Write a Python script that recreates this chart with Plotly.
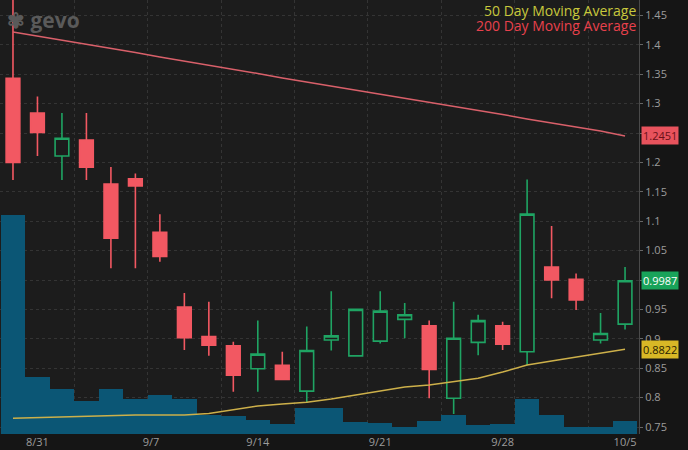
import plotly.graph_objects as go

# ---- data ----
dates = ["8/28", "8/31", "9/1", "9/2", "9/3", "9/4", "9/8", "9/9", "9/10", "9/11",
         "9/14", "9/15", "9/16", "9/17", "9/18", "9/21", "9/22", "9/23", "9/24", "9/25",
         "9/28", "9/29", "9/30", "10/1", "10/2", "10/5"]
opens = [1.343, 1.284, 1.211, 1.238, 1.163, 1.172, 1.081, 0.954, 0.904, 0.888,
         0.849, 0.855, 0.811, 0.898, 0.871, 0.896, 0.933, 0.922, 0.799, 0.894,
         0.922, 0.878, 1.022, 1.001, 0.898, 0.925]
highs = [1.49, 1.312, 1.284, 1.284, 1.192, 1.181, 1.112, 0.978, 0.963, 0.895,
         0.931, 0.878, 0.921, 0.981, 0.950, 0.981, 0.961, 0.931, 0.963, 0.941,
         0.929, 1.171, 1.092, 1.011, 0.944, 1.022]
lows = [1.170, 1.211, 1.170, 1.170, 1.020, 1.020, 1.031, 0.881, 0.871, 0.810,
        0.810, 0.831, 0.791, 0.880, 0.871, 0.892, 0.901, 0.799, 0.772, 0.872,
        0.881, 0.855, 0.969, 0.949, 0.892, 0.916]
closes = [1.200, 1.251, 1.241, 1.192, 1.071, 1.160, 1.040, 0.902, 0.889, 0.838,
          0.874, 0.831, 0.880, 0.905, 0.950, 0.947, 0.941, 0.848, 0.901, 0.931,
          0.891, 1.112, 1.000, 0.966, 0.909, 0.9987]
volumes = [43.8, 11.4, 9.0, 6.6, 9.0, 7.0, 7.8, 7.0, 3.8, 3.6,
           2.8, 2.0, 5.2, 5.2, 2.4, 2.2, 1.4, 2.6, 3.8, 1.8,
           2.0, 7.0, 3.8, 1.4, 1.4, 2.6]
ma50 = [0.765, 0.766, 0.767, 0.7687, 0.7696, 0.7704, 0.7704, 0.7704, 0.773, 0.7798,
        0.7857, 0.789, 0.792, 0.7976, 0.8044, 0.8104, 0.818, 0.8214, 0.8265, 0.8328,
        0.8435, 0.8554, 0.8622, 0.869, 0.8759, 0.8822]
ma200 = [1.4218, 1.415, 1.408, 1.4014, 1.3937, 1.387, 1.3793, 1.3724, 1.3656, 1.358,
         1.3512, 1.3435, 1.3367, 1.3299, 1.3231, 1.3163, 1.3087, 1.3019, 1.2951, 1.2883,
         1.2815, 1.2738, 1.267, 1.2602, 1.2534, 1.2451]

x_tick_pos = [1, 5.64, 10, 15, 20, 25]
x_tick_text = ["8/31", "9/7", "9/14", "9/21", "9/28", "10/5"]
x_grid_pos = [2.5, 5.5, 8.5, 11.5, 14.5, 17.5, 20.5, 23.5]
y_tick_vals = [0.75, 0.8, 0.85, 0.9, 0.95, 1.0, 1.05, 1.1, 1.15, 1.2, 1.25, 1.3, 1.35, 1.4, 1.45]
y_tick_show = ["0.75", "0.8", "0.85", "0.9", "0.95", "", "1.05", "1.1", "1.15", "1.2",
               "", "1.3", "1.35", "1.4", "1.45"]

idx = list(range(len(dates)))

PLOT_BG = "#1c1c1c"
PAPER_BG = "#151515"
RED = "#f25862"
GREEN = "#1fa463"
VOL = "#0b5675"
GRID = "#343434"
TXT = "#9c9c9c"

fig = go.Figure()

fig.add_trace(go.Bar(
    x=idx, y=volumes, marker=dict(color=VOL, line=dict(width=0)),
    width=1.0, xaxis="x", yaxis="y", hoverinfo="skip", showlegend=False))

fig.add_trace(go.Scatter(
    x=idx, y=ma200, mode="lines", line=dict(color="#d9606a", width=1.5),
    xaxis="x", yaxis="y2", hoverinfo="skip", showlegend=False))
fig.add_trace(go.Scatter(
    x=idx, y=ma50, mode="lines", line=dict(color="#cdb04a", width=1.5),
    xaxis="x", yaxis="y2", hoverinfo="skip", showlegend=False))

fig.add_trace(go.Candlestick(
    x=idx, open=opens, high=highs, low=lows, close=closes,
    increasing=dict(line=dict(color=GREEN, width=1.6), fillcolor=PLOT_BG),
    decreasing=dict(line=dict(color=RED, width=1.6), fillcolor=RED),
    whiskerwidth=0, xaxis="x", yaxis="y2", hoverinfo="skip", showlegend=False))

# dummy trace to carry the date-label axis
fig.add_trace(go.Scatter(x=x_tick_pos, y=[None] * len(x_tick_pos), xaxis="x2", yaxis="y2",
                         mode="markers", hoverinfo="skip", showlegend=False))

xr = [-0.53, 25.57]
vmax = max(volumes)
fig.update_layout(
    width=688, height=450,
    margin=dict(l=0, r=49, t=0, b=16),
    paper_bgcolor=PAPER_BG, plot_bgcolor=PLOT_BG,
    font=dict(family="Open Sans", color=TXT, size=11),
    boxgap=0.2, bargap=0,
    xaxis=dict(range=xr, tickvals=x_grid_pos, showticklabels=False, showgrid=True,
               gridcolor=GRID, griddash="dot", gridwidth=1, zeroline=False,
               rangeslider=dict(visible=False), showline=False, fixedrange=True),
    xaxis2=dict(range=xr, overlaying="x", anchor="y2", side="bottom",
                tickvals=x_tick_pos, ticktext=x_tick_text, showgrid=False, zeroline=False,
                tickfont=dict(size=11, color=TXT), ticks="", showline=False),
    yaxis=dict(range=[0, vmax * 434 / 219], visible=False, showgrid=False, fixedrange=True),
    yaxis2=dict(range=[0.7381, 1.4762], overlaying="y", side="right", anchor="x",
                tickvals=y_tick_vals, ticktext=y_tick_show, showgrid=True,
                gridcolor=GRID, griddash="dot", zeroline=False,
                showline=True, linecolor="#4a4a4a", linewidth=1,
                ticks="outside", ticklen=3, tickcolor="#666",
                tickfont=dict(size=11, color=TXT)),
    showlegend=False,
)

# legend texts
fig.add_annotation(xref="paper", yref="paper", x=0.998, y=1.003, xanchor="right", yanchor="top",
                   text="50 Day Moving Average", showarrow=False,
                   font=dict(family="Open Sans", size=14, color="#c8c83c"))
fig.add_annotation(xref="paper", yref="paper", x=0.998, y=0.968, xanchor="right", yanchor="top",
                   text="200 Day Moving Average", showarrow=False,
                   font=dict(family="Open Sans", size=14, color="#e8414c"))

# logo
fig.add_annotation(xref="paper", yref="paper", x=0.008, y=0.99, xanchor="left", yanchor="top",
                   text="<b>✾ gevo</b>", showarrow=False,
                   font=dict(family="Open Sans", size=21, color="#5a5a5a"))

# price badges
badges = [(ma200[-1], "1.2451", "#e8535d", "#6a1018"),
          (closes[-1], "0.9987", "#19a35a", "#ffffff"),
          (ma50[-1], "0.8822", "#d8b826", "#2a2200")]
for val, txt, bg, fg in badges:
    fig.add_annotation(xref="paper", yref="y2", x=1.003, y=val, xanchor="left", yanchor="middle",
                       text=txt, showarrow=False, bgcolor=bg, borderpad=1,
                       font=dict(family="Open Sans", size=11, color=fg))

fig.write_html("out.html", config={"displayModeBar": False},
               post_script="document.body.style.margin='0';document.body.style.overflow='hidden';")
